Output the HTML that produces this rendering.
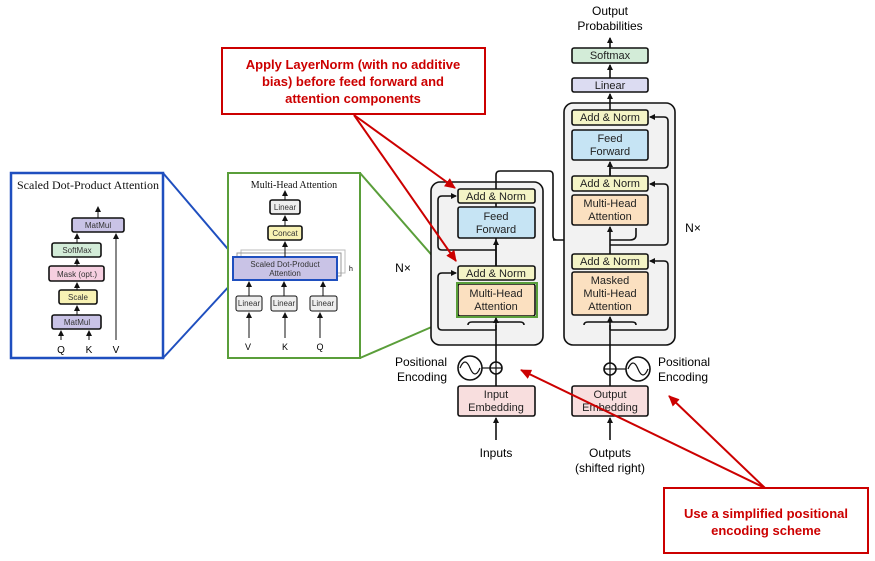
<!DOCTYPE html>
<html><head><meta charset="utf-8"><style>
html,body{margin:0;padding:0;background:#fff;}
svg{display:block;font-family:"Liberation Sans",sans-serif;}
.s{font-size:11px;fill:#222;text-anchor:middle}
.t{font-size:8px;fill:#333;text-anchor:middle}
.b{stroke:#111;stroke-width:1.6}
.l{stroke:#111;stroke-width:1.6;fill:none}
</style></head><body>
<svg width="875" height="561" viewBox="0 0 875 561">
<defs>
<marker id="a" markerUnits="userSpaceOnUse" markerWidth="6" markerHeight="6" refX="5" refY="3" orient="auto"><path d="M0,0 L6,3 L0,6z" fill="#111"/></marker>
<marker id="r" markerUnits="userSpaceOnUse" markerWidth="11" markerHeight="10" refX="10" refY="5" orient="auto"><path d="M0,0 L11,5 L0,10z" fill="#c00"/></marker>
</defs>

<!-- Scaled dot-product panel -->
<rect x="11" y="173" width="152" height="185" fill="#fff" stroke="#1f4fbf" stroke-width="2.5"/>
<text x="17" y="189" font-family="Liberation Serif" font-size="12" fill="#111">Scaled Dot-Product Attention</text>
<rect x="72" y="218" width="52" height="14" rx="2" fill="#c9c3e6" class="b" stroke-width="1.2"/><text class="t" x="98" y="228">MatMul</text>
<rect x="52" y="243" width="49" height="14" rx="2" fill="#d3ecd8" class="b" stroke-width="1.2"/><text class="t" x="77" y="253">SoftMax</text>
<rect x="49" y="266" width="55" height="15" rx="2" fill="#f6cfe0" class="b" stroke-width="1.2"/><text class="t" x="77" y="277">Mask (opt.)</text>
<rect x="59" y="290" width="38" height="14" rx="2" fill="#f8f2b4" class="b" stroke-width="1.2"/><text class="t" x="78" y="300">Scale</text>
<rect x="52" y="315" width="49" height="14" rx="2" fill="#c9c3e6" class="b" stroke-width="1.2"/><text class="t" x="77" y="325">MatMul</text>
<g stroke="#111" stroke-width="1" marker-end="url(#a)">
<line x1="98" y1="218" x2="98" y2="207"/><line x1="77" y1="243" x2="77" y2="234"/><line x1="77" y1="266" x2="77" y2="259"/>
<line x1="77" y1="290" x2="77" y2="283"/><line x1="77" y1="315" x2="77" y2="306"/>
<line x1="61" y1="340" x2="61" y2="331"/><line x1="89" y1="340" x2="89" y2="331"/><line x1="116" y1="340" x2="116" y2="234"/>
</g>
<text x="61" y="353" font-size="10" text-anchor="middle">Q</text><text x="89" y="353" font-size="10" text-anchor="middle">K</text><text x="116" y="353" font-size="10" text-anchor="middle">V</text>
<line x1="163" y1="173" x2="233" y2="255" stroke="#1f4fbf" stroke-width="2"/>
<line x1="163" y1="358" x2="233" y2="282" stroke="#1f4fbf" stroke-width="2"/>

<!-- Multi-head panel -->
<rect x="228" y="173" width="132" height="185" fill="#fff" stroke="#5a9e3a" stroke-width="2"/>
<text x="294" y="188" font-family="Liberation Serif" font-size="10" fill="#111" text-anchor="middle">Multi-Head Attention</text>
<rect x="270" y="200" width="30" height="14" rx="2" fill="#eee" class="b" stroke-width="1"/><text class="t" x="285" y="210" font-size="7">Linear</text>
<rect x="268" y="226" width="34" height="14" rx="2" fill="#f8f2b4" class="b" stroke-width="1"/><text class="t" x="285" y="236" font-size="7">Concat</text>
<rect x="241" y="250" width="104" height="23" fill="none" stroke="#bbb"/>
<rect x="237" y="253" width="104" height="23" fill="none" stroke="#999"/>
<rect x="233" y="257" width="104" height="23" fill="#c9c3e6" stroke="#1f4fbf" stroke-width="2"/>
<text class="t" x="285" y="267" font-size="7">Scaled Dot-Product</text><text class="t" x="285" y="276" font-size="7">Attention</text>
<text x="349" y="271" font-size="7">h</text>
<g stroke="#111" stroke-width="1" fill="#eee">
<rect x="236" y="296" width="26" height="15" rx="2"/><rect x="271" y="296" width="26" height="15" rx="2"/><rect x="310" y="296" width="27" height="15" rx="2"/>
</g>
<text class="t" x="249" y="306" font-size="7">Linear</text><text class="t" x="284" y="306" font-size="7">Linear</text><text class="t" x="323" y="306" font-size="7">Linear</text>
<g stroke="#111" stroke-width="1" marker-end="url(#a)">
<line x1="285" y1="200" x2="285" y2="191"/><line x1="285" y1="226" x2="285" y2="216"/><line x1="285" y1="257" x2="285" y2="242"/>
<line x1="249" y1="296" x2="249" y2="282"/><line x1="284" y1="296" x2="284" y2="282"/><line x1="323" y1="296" x2="323" y2="282"/>
<line x1="249" y1="338" x2="249" y2="313"/><line x1="285" y1="338" x2="285" y2="313"/><line x1="320" y1="338" x2="320" y2="313"/>
</g>
<text x="248" y="350" font-size="9" text-anchor="middle">V</text><text x="285" y="350" font-size="9" text-anchor="middle">K</text><text x="320" y="350" font-size="9" text-anchor="middle">Q</text>
<line x1="360" y1="173" x2="457" y2="284" stroke="#5a9e3a" stroke-width="2"/>
<line x1="360" y1="358" x2="457" y2="316" stroke="#5a9e3a" stroke-width="2"/>

<!-- Encoder -->
<rect x="431" y="182" width="112" height="163" rx="9" fill="#f2f2f2" class="b"/>
<rect x="458" y="189" width="77" height="14" rx="2" fill="#f4f4c6" class="b"/><text class="s" x="496" y="200">Add &amp; Norm</text>
<rect x="458" y="207" width="77" height="31" rx="2" fill="#c6e4f4" class="b"/><text class="s" x="496" y="220">Feed</text><text class="s" x="496" y="233">Forward</text>
<rect x="458" y="266" width="77" height="14" rx="2" fill="#f4f4c6" class="b"/><text class="s" x="496" y="277">Add &amp; Norm</text>
<rect x="458" y="284" width="77" height="32" rx="2" fill="#fbe0c0" class="b"/><text class="s" x="496" y="297">Multi-Head</text><text class="s" x="496" y="310">Attention</text>
<rect x="457" y="283" width="80" height="34" fill="none" stroke="#5a9e3a" stroke-width="2"/>
<path class="l" d="M496,386 L496,325 M496,266 L496,238 M496,207 L496,203" />
<path class="l" d="M496,330 L442,330 Q438,330 438,326 L438,277 Q438,273 442,273 L456,273" marker-end="url(#a)"/>
<path class="l" d="M496,250 L442,250 Q438,250 438,246 L438,200 Q438,196 442,196 L456,196" marker-end="url(#a)"/>
<path class="l" d="M468,325 Q468,322 472,322 L520,322 Q524,322 524,325" />
<line x1="496" y1="330" x2="496" y2="318" stroke="#111" stroke-width="1.6" marker-end="url(#a)"/>
<line x1="496" y1="266" x2="496" y2="240" stroke="#111" stroke-width="1.6" marker-end="url(#a)"/>
<text x="403" y="272" font-size="12" text-anchor="middle">N×</text>
<circle cx="496" cy="368" r="6" fill="#fff" class="b"/><path d="M490,368h12M496,362v12" stroke="#111" stroke-width="1.2"/>
<circle cx="470" cy="368" r="12" fill="#fff" class="b"/><path d="M460,368 Q465,356 470,368 Q475,380 480,368" fill="none" stroke="#111" stroke-width="1.2"/>
<line x1="482" y1="368" x2="490" y2="368" stroke="#111" stroke-width="1.2"/>
<text x="447" y="366" font-size="12" text-anchor="end">Positional</text><text x="447" y="381" font-size="12" text-anchor="end">Encoding</text>
<rect x="458" y="386" width="77" height="30" rx="2" fill="#f8dede" class="b"/><text class="s" x="496" y="398">Input</text><text class="s" x="496" y="411">Embedding</text>
<line x1="496" y1="440" x2="496" y2="418" stroke="#111" stroke-width="1.6" marker-end="url(#a)"/>
<text x="496" y="457" font-size="12" text-anchor="middle">Inputs</text>

<!-- encoder to decoder connector -->
<path class="l" d="M496,189 L496,175 Q496,171 500,171 L549,171 Q553,171 553,175 L553,236 Q553,240 557,240 L600,240 Q604,240 604,235 L604,228 M553,240 L580,240 Q584,240 584,235 L584,228"/>

<!-- Decoder -->
<rect x="564" y="103" width="111" height="242" rx="9" fill="#f2f2f2" class="b"/>
<rect x="572" y="110" width="76" height="15" rx="2" fill="#f4f4c6" class="b"/><text class="s" x="610" y="121">Add &amp; Norm</text>
<rect x="572" y="130" width="76" height="30" rx="2" fill="#c6e4f4" class="b"/><text class="s" x="610" y="142">Feed</text><text class="s" x="610" y="155">Forward</text>
<rect x="572" y="176" width="76" height="15" rx="2" fill="#f4f4c6" class="b"/><text class="s" x="610" y="187">Add &amp; Norm</text>
<rect x="572" y="195" width="76" height="30" rx="2" fill="#fbe0c0" class="b"/><text class="s" x="610" y="207">Multi-Head</text><text class="s" x="610" y="220">Attention</text>
<rect x="572" y="254" width="76" height="15" rx="2" fill="#f4f4c6" class="b"/><text class="s" x="610" y="265">Add &amp; Norm</text>
<rect x="572" y="272" width="76" height="43" rx="2" fill="#fbe0c0" class="b"/><text class="s" x="610" y="284">Masked</text><text class="s" x="610" y="297">Multi-Head</text><text class="s" x="610" y="310">Attention</text>
<path class="l" d="M610,386 L610,325 M610,254 L610,240 M610,176 L610,168"/>
<path class="l" d="M610,330 L664,330 Q668,330 668,326 L668,265 Q668,261 664,261 L650,261" marker-end="url(#a)"/>
<path class="l" d="M610,245 L664,245 Q668,245 668,241 L668,188 Q668,184 664,184 L650,184" marker-end="url(#a)"/>
<path class="l" d="M610,168 L664,168 Q668,168 668,164 L668,121 Q668,117 664,117 L650,117" marker-end="url(#a)"/>
<line x1="610" y1="330" x2="610" y2="317" stroke="#111" stroke-width="1.6" marker-end="url(#a)"/>
<path class="l" d="M584,325 Q584,322 588,322 L632,322 Q636,322 636,325"/>
<line x1="610" y1="240" x2="610" y2="227" stroke="#111" stroke-width="1.6" marker-end="url(#a)"/>
<path class="l" d="M610,240 L630,240 Q636,240 636,235 L636,228"/>
<line x1="610" y1="176" x2="610" y2="162" stroke="#111" stroke-width="1.6" marker-end="url(#a)"/>
<line x1="610" y1="110" x2="610" y2="94" stroke="#111" stroke-width="1.6" marker-end="url(#a)"/>
<line x1="610" y1="78" x2="610" y2="65" stroke="#111" stroke-width="1.6" marker-end="url(#a)"/>
<line x1="610" y1="48" x2="610" y2="38" stroke="#111" stroke-width="1.6" marker-end="url(#a)"/>
<rect x="572" y="78" width="76" height="14" rx="2" fill="#dcdcf2" class="b"/><text class="s" x="610" y="89">Linear</text>
<rect x="572" y="48" width="76" height="15" rx="2" fill="#d3ecd8" class="b"/><text class="s" x="610" y="59">Softmax</text>
<text x="610" y="15" font-size="12" text-anchor="middle">Output</text><text x="610" y="30" font-size="12" text-anchor="middle">Probabilities</text>
<text x="693" y="232" font-size="12" text-anchor="middle">N×</text>
<circle cx="610" cy="369" r="6" fill="#fff" class="b"/><path d="M604,369h12M610,363v12" stroke="#111" stroke-width="1.2"/>
<circle cx="638" cy="369" r="12" fill="#fff" class="b"/><path d="M628,369 Q633,357 638,369 Q643,381 648,369" fill="none" stroke="#111" stroke-width="1.2"/>
<line x1="616" y1="369" x2="626" y2="369" stroke="#111" stroke-width="1.2"/>
<text x="658" y="366" font-size="12">Positional</text><text x="658" y="381" font-size="12">Encoding</text>
<rect x="572" y="386" width="76" height="30" rx="2" fill="#f8dede" class="b"/><text class="s" x="610" y="398">Output</text><text class="s" x="610" y="411">Embedding</text>
<line x1="610" y1="440" x2="610" y2="418" stroke="#111" stroke-width="1.6" marker-end="url(#a)"/>
<text x="610" y="457" font-size="12" text-anchor="middle">Outputs</text><text x="610" y="472" font-size="12" text-anchor="middle">(shifted right)</text>

<!-- Callouts -->
<rect x="222" y="48" width="263" height="66" fill="#fff" stroke="#c00" stroke-width="2"/>
<g font-size="13" font-weight="bold" fill="#c00" text-anchor="middle">
<text x="353" y="69">Apply LayerNorm (with no additive</text>
<text x="353" y="86">bias) before feed forward and</text>
<text x="353" y="103">attention components</text>
</g>
<line x1="354" y1="115" x2="455" y2="188" stroke="#c00" stroke-width="2" marker-end="url(#r)"/>
<line x1="354" y1="115" x2="456" y2="261" stroke="#c00" stroke-width="2" marker-end="url(#r)"/>
<rect x="664" y="488" width="204" height="65" fill="#fff" stroke="#c00" stroke-width="2"/>
<g font-size="13" font-weight="bold" fill="#c00" text-anchor="middle">
<text x="766" y="518">Use a simplified positional</text>
<text x="766" y="535">encoding scheme</text>
</g>
<line x1="765" y1="488" x2="521" y2="370" stroke="#c00" stroke-width="2" marker-end="url(#r)"/>
<line x1="765" y1="488" x2="669" y2="396" stroke="#c00" stroke-width="2" marker-end="url(#r)"/>
</svg>
</body></html>
